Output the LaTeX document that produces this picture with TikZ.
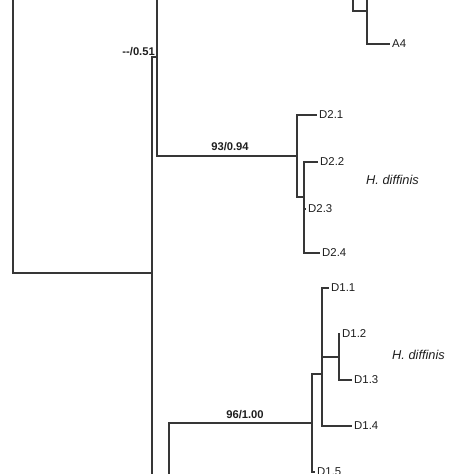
\documentclass[tikz,border=0pt]{standalone}
\usepackage{fontspec}
\setmainfont{Liberation Sans}
\usepackage{xcolor}
\usetikzlibrary{positioning, calc}
\definecolor{treegray}{HTML}{363636}
\definecolor{textgray}{HTML}{1E1E1E}

\begin{document}
\begin{tikzpicture}[x=1pt, y=-1pt,
    branch/.style={draw=treegray, line width=1.1pt},
    tiplabel/.style={anchor=west, inner sep=2pt, text=textgray, font=\fontsize{11.4}{13}\selectfont},
    support/.style={inner sep=1pt, text=textgray, font=\bfseries\fontsize{11.2}{13}\selectfont},
    species/.style={anchor=west, inner sep=0pt, text=textgray, font=\itshape\fontsize{12.8}{15}\selectfont}]

  \useasboundingbox (0,0) rectangle (474,474);
  \clip (0,0) rectangle (474,474);

  % Internal nodes (some lie outside the frame)
  \coordinate (root)  at (13,-60);
  \coordinate (nB)    at (152,273);
  \coordinate (nS)    at (157,57);
  \coordinate (nTop)  at (200,-60);
  \coordinate (nA)    at (353,-60);
  \coordinate (nA34)  at (367,11);
  \coordinate (nD2)   at (297,156);
  \coordinate (nD2b)  at (304,197);
  \coordinate (nLow)  at (169,520);
  \coordinate (nD1)   at (312,423);
  \coordinate (nD1a)  at (322,374);
  \coordinate (nD1b)  at (339,357);

  % Tip labels
  \foreach \name/\x/\y/\txt in {a3/390/-4/A3, a4/390/44/A4,
      d21/317/115/D2.1, d22/318/162/D2.2, d23/306/209/D2.3, d24/320/253/D2.4,
      d11/329/288/D1.1, d12/340/334/D1.2, d13/352/380/D1.3, d14/352/426/D1.4,
      d15/315/472/D1.5} {
    \node[tiplabel] (\name) at (\x,\y) {\txt};
  }

  % Branches between internal nodes
  \foreach \p/\c in {root/nB, nB/nS, nB/nLow, nS/nTop, nS/nD2, nA/nA34,
      nD2/nD2b, nLow/nD1, nD1/nD1a, nD1a/nD1b} {
    \draw[branch] (\p) |- (\c);
  }

  % Branches to tips
  \foreach \p/\c in {nA34/a3, nA34/a4, nD2/d21, nD2b/d22, nD2b/d23, nD2b/d24,
      nD1/d15, nD1a/d11, nD1a/d14, nD1b/d12, nD1b/d13} {
    \draw[branch] (\p) |- (\c.west);
  }

  % Heavier stretch on the D1 stem
  \draw[branch, line width=2pt] (322,322) -- (nD1b -| nD1a);

  % Support values
  \node[support, anchor=south east] (s051) at (156,57) {{-}{-}/0.51};
  \node[support] (s094) at (230,147) {93/0.94};
  \node[support] (s100) at (245,415) {96/1.00};

  % Species names
  \node[species] (hd2) at (366,180) {H. diffinis};
  \node[species] (hd1) at (392,355) {H. diffinis};
\end{tikzpicture}
\end{document}
